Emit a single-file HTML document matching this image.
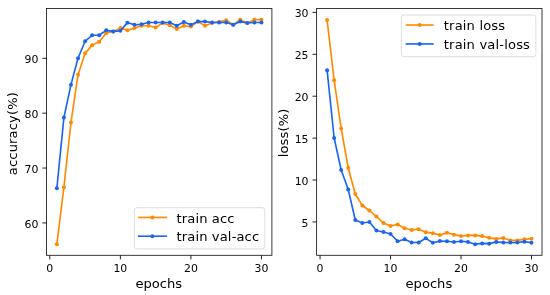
<!DOCTYPE html>
<html><head><meta charset="utf-8"><title>training curves</title>
<style>
html,body{margin:0;padding:0;background:#fff;}
svg{display:block;}
text{font-family:"DejaVu Sans","Liberation Sans",sans-serif;fill:#000;}
.t{font-size:10.91px;}
.l{font-size:13.1px;letter-spacing:0.12px;}
</style></head><body>
<svg width="550" height="295" viewBox="0 0 550 295">
<rect width="550" height="295" fill="#fff"/>
<polyline points="56.85,244.31 63.91,187.24 70.97,122.5 78.02,74.76 85.07,53.36 92.13,45.13 99.19,41.84 106.24,33.06 113.29,31.41 120.35,28.12 127.4,30.32 134.46,28.12 141.51,25.76 148.57,25.76 155.62,27.57 162.68,23.02 169.74,25.21 176.79,29.05 183.84,25.76 190.9,26.59 197.95,21.59 205.01,25.76 212.06,23.02 219.12,21.92 226.18,20.28 233.23,24.66 240.28,19.73 247.34,23.02 254.39,19.73 261.45,19.73" fill="none" stroke="#ff8a00" stroke-width="1.64" stroke-linejoin="round" stroke-linecap="square"/>
<g fill="#ff8a00"><circle cx="56.85" cy="244.31" r="2"/><circle cx="63.91" cy="187.24" r="2"/><circle cx="70.97" cy="122.5" r="2"/><circle cx="78.02" cy="74.76" r="2"/><circle cx="85.07" cy="53.36" r="2"/><circle cx="92.13" cy="45.13" r="2"/><circle cx="99.19" cy="41.84" r="2"/><circle cx="106.24" cy="33.06" r="2"/><circle cx="113.29" cy="31.41" r="2"/><circle cx="120.35" cy="28.12" r="2"/><circle cx="127.4" cy="30.32" r="2"/><circle cx="134.46" cy="28.12" r="2"/><circle cx="141.51" cy="25.76" r="2"/><circle cx="148.57" cy="25.76" r="2"/><circle cx="155.62" cy="27.57" r="2"/><circle cx="162.68" cy="23.02" r="2"/><circle cx="169.74" cy="25.21" r="2"/><circle cx="176.79" cy="29.05" r="2"/><circle cx="183.84" cy="25.76" r="2"/><circle cx="190.9" cy="26.59" r="2"/><circle cx="197.95" cy="21.59" r="2"/><circle cx="205.01" cy="25.76" r="2"/><circle cx="212.06" cy="23.02" r="2"/><circle cx="219.12" cy="21.92" r="2"/><circle cx="226.18" cy="20.28" r="2"/><circle cx="233.23" cy="24.66" r="2"/><circle cx="240.28" cy="19.73" r="2"/><circle cx="247.34" cy="23.02" r="2"/><circle cx="254.39" cy="19.73" r="2"/><circle cx="261.45" cy="19.73" r="2"/></g>
<polyline points="56.85,188.34 63.91,117.56 70.97,84.64 78.02,58.3 85.07,41.29 92.13,35.25 99.19,35.25 106.24,30.32 113.29,31.41 120.35,30.86 127.4,22.63 134.46,24.83 141.51,24.28 148.57,22.47 155.62,22.47 162.68,22.47 169.74,22.47 176.79,25.76 183.84,21.92 190.9,24.66 197.95,21.59 205.01,21.59 212.06,22.47 219.12,22.47 226.18,22.47 233.23,24.66 240.28,21.59 247.34,23.02 254.39,22.47 261.45,22.47" fill="none" stroke="#1b65ee" stroke-width="1.64" stroke-linejoin="round" stroke-linecap="square"/>
<g fill="#1b65ee"><circle cx="56.85" cy="188.34" r="2"/><circle cx="63.91" cy="117.56" r="2"/><circle cx="70.97" cy="84.64" r="2"/><circle cx="78.02" cy="58.3" r="2"/><circle cx="85.07" cy="41.29" r="2"/><circle cx="92.13" cy="35.25" r="2"/><circle cx="99.19" cy="35.25" r="2"/><circle cx="106.24" cy="30.32" r="2"/><circle cx="113.29" cy="31.41" r="2"/><circle cx="120.35" cy="30.86" r="2"/><circle cx="127.4" cy="22.63" r="2"/><circle cx="134.46" cy="24.83" r="2"/><circle cx="141.51" cy="24.28" r="2"/><circle cx="148.57" cy="22.47" r="2"/><circle cx="155.62" cy="22.47" r="2"/><circle cx="162.68" cy="22.47" r="2"/><circle cx="169.74" cy="22.47" r="2"/><circle cx="176.79" cy="25.76" r="2"/><circle cx="183.84" cy="21.92" r="2"/><circle cx="190.9" cy="24.66" r="2"/><circle cx="197.95" cy="21.59" r="2"/><circle cx="205.01" cy="21.59" r="2"/><circle cx="212.06" cy="22.47" r="2"/><circle cx="219.12" cy="22.47" r="2"/><circle cx="226.18" cy="22.47" r="2"/><circle cx="233.23" cy="24.66" r="2"/><circle cx="240.28" cy="21.59" r="2"/><circle cx="247.34" cy="23.02" r="2"/><circle cx="254.39" cy="22.47" r="2"/><circle cx="261.45" cy="22.47" r="2"/></g>
<rect x="46.5" y="8.5" width="225.4" height="246.8" fill="none" stroke="#1c1c1c" stroke-width="0.87"/>
<line x1="49.8" y1="255.3" x2="49.8" y2="259.4" stroke="#000" stroke-width="0.87"/>
<text x="49.8" y="272.3" text-anchor="middle" class="t">0</text>
<line x1="120.35" y1="255.3" x2="120.35" y2="259.4" stroke="#000" stroke-width="0.87"/>
<text x="120.35" y="272.3" text-anchor="middle" class="t">10</text>
<line x1="190.9" y1="255.3" x2="190.9" y2="259.4" stroke="#000" stroke-width="0.87"/>
<text x="190.9" y="272.3" text-anchor="middle" class="t">20</text>
<line x1="261.45" y1="255.3" x2="261.45" y2="259.4" stroke="#000" stroke-width="0.87"/>
<text x="261.45" y="272.3" text-anchor="middle" class="t">30</text>
<line x1="42.4" y1="222.91" x2="46.5" y2="222.91" stroke="#000" stroke-width="0.87"/>
<text x="38.46" y="227.71" text-anchor="end" class="t">60</text>
<line x1="42.4" y1="168.04" x2="46.5" y2="168.04" stroke="#000" stroke-width="0.87"/>
<text x="38.46" y="172.84" text-anchor="end" class="t">70</text>
<line x1="42.4" y1="113.17" x2="46.5" y2="113.17" stroke="#000" stroke-width="0.87"/>
<text x="38.46" y="117.97" text-anchor="end" class="t">80</text>
<line x1="42.4" y1="58.3" x2="46.5" y2="58.3" stroke="#000" stroke-width="0.87"/>
<text x="38.46" y="63.1" text-anchor="end" class="t">90</text>
<text x="158.8" y="287.6" text-anchor="middle" class="l" style="letter-spacing:0">epochs</text>
<text transform="translate(16.7 133.6) rotate(-90)" text-anchor="middle" class="l">accuracy(%)</text>
<rect x="134.4" y="207.7" width="130.4" height="41.2" rx="2.6" fill="#fff" fill-opacity="0.8" stroke="#d4d4d4" stroke-opacity="0.8" stroke-width="1"/>
<line x1="138.7" y1="217.45" x2="166.1" y2="217.45" stroke="#ff8a00" stroke-width="1.64" stroke-linecap="square"/>
<circle cx="152.4" cy="217.45" r="2" fill="#ff8a00"/>
<text x="176.5" y="222.5" class="l" style="letter-spacing:0.12px">train acc</text>
<line x1="138.7" y1="236.2" x2="166.1" y2="236.2" stroke="#1b65ee" stroke-width="1.64" stroke-linecap="square"/>
<circle cx="152.4" cy="236.2" r="2" fill="#1b65ee"/>
<text x="176.5" y="241.2" class="l" style="letter-spacing:0.12px">train val-acc</text>
<polyline points="327.1,20.07 334.15,80.32 341.19,128.45 348.24,167.97 355.29,193.96 362.34,205.49 369.39,210.5 376.43,216.52 383.48,223.04 390.53,225.96 397.58,224.54 404.63,228.22 411.67,229.97 418.72,229.14 425.77,232.15 432.82,233.15 439.87,234.99 446.91,232.73 453.96,234.66 461.01,235.99 468.06,235.4 475.11,235.4 482.15,236.07 489.2,237.83 496.25,238.91 503.3,237.92 510.35,240.42 517.39,240.42 524.44,239.25 531.49,238.66" fill="none" stroke="#ff8a00" stroke-width="1.64" stroke-linejoin="round" stroke-linecap="square"/>
<g fill="#ff8a00"><circle cx="327.1" cy="20.07" r="2"/><circle cx="334.15" cy="80.32" r="2"/><circle cx="341.19" cy="128.45" r="2"/><circle cx="348.24" cy="167.97" r="2"/><circle cx="355.29" cy="193.96" r="2"/><circle cx="362.34" cy="205.49" r="2"/><circle cx="369.39" cy="210.5" r="2"/><circle cx="376.43" cy="216.52" r="2"/><circle cx="383.48" cy="223.04" r="2"/><circle cx="390.53" cy="225.96" r="2"/><circle cx="397.58" cy="224.54" r="2"/><circle cx="404.63" cy="228.22" r="2"/><circle cx="411.67" cy="229.97" r="2"/><circle cx="418.72" cy="229.14" r="2"/><circle cx="425.77" cy="232.15" r="2"/><circle cx="432.82" cy="233.15" r="2"/><circle cx="439.87" cy="234.99" r="2"/><circle cx="446.91" cy="232.73" r="2"/><circle cx="453.96" cy="234.66" r="2"/><circle cx="461.01" cy="235.99" r="2"/><circle cx="468.06" cy="235.4" r="2"/><circle cx="475.11" cy="235.4" r="2"/><circle cx="482.15" cy="236.07" r="2"/><circle cx="489.2" cy="237.83" r="2"/><circle cx="496.25" cy="238.91" r="2"/><circle cx="503.3" cy="237.92" r="2"/><circle cx="510.35" cy="240.42" r="2"/><circle cx="517.39" cy="240.42" r="2"/><circle cx="524.44" cy="239.25" r="2"/><circle cx="531.49" cy="238.66" r="2"/></g>
<polyline points="327.1,70.2 334.15,137.97 341.19,169.98 348.24,189.53 355.29,220.03 362.34,223.04 369.39,222.03 376.43,230.47 383.48,232.07 390.53,233.99 397.58,241.17 404.63,239.25 411.67,242.51 418.72,242.51 425.77,238.33 432.82,242.76 439.87,241.08 446.91,241.25 453.96,242.01 461.01,241.25 468.06,241.92 475.11,244.18 482.15,243.43 489.2,243.67 496.25,241.92 503.3,242.51 510.35,242.59 517.39,242.51 524.44,241.67 531.49,242.68" fill="none" stroke="#1b65ee" stroke-width="1.64" stroke-linejoin="round" stroke-linecap="square"/>
<g fill="#1b65ee"><circle cx="327.1" cy="70.2" r="2"/><circle cx="334.15" cy="137.97" r="2"/><circle cx="341.19" cy="169.98" r="2"/><circle cx="348.24" cy="189.53" r="2"/><circle cx="355.29" cy="220.03" r="2"/><circle cx="362.34" cy="223.04" r="2"/><circle cx="369.39" cy="222.03" r="2"/><circle cx="376.43" cy="230.47" r="2"/><circle cx="383.48" cy="232.07" r="2"/><circle cx="390.53" cy="233.99" r="2"/><circle cx="397.58" cy="241.17" r="2"/><circle cx="404.63" cy="239.25" r="2"/><circle cx="411.67" cy="242.51" r="2"/><circle cx="418.72" cy="242.51" r="2"/><circle cx="425.77" cy="238.33" r="2"/><circle cx="432.82" cy="242.76" r="2"/><circle cx="439.87" cy="241.08" r="2"/><circle cx="446.91" cy="241.25" r="2"/><circle cx="453.96" cy="242.01" r="2"/><circle cx="461.01" cy="241.25" r="2"/><circle cx="468.06" cy="241.92" r="2"/><circle cx="475.11" cy="244.18" r="2"/><circle cx="482.15" cy="243.43" r="2"/><circle cx="489.2" cy="243.67" r="2"/><circle cx="496.25" cy="241.92" r="2"/><circle cx="503.3" cy="242.51" r="2"/><circle cx="510.35" cy="242.59" r="2"/><circle cx="517.39" cy="242.51" r="2"/><circle cx="524.44" cy="241.67" r="2"/><circle cx="531.49" cy="242.68" r="2"/></g>
<rect x="316.6" y="8.5" width="225.4" height="246.8" fill="none" stroke="#1c1c1c" stroke-width="0.87"/>
<line x1="320.05" y1="255.3" x2="320.05" y2="259.4" stroke="#000" stroke-width="0.87"/>
<text x="320.05" y="272.3" text-anchor="middle" class="t">0</text>
<line x1="390.53" y1="255.3" x2="390.53" y2="259.4" stroke="#000" stroke-width="0.87"/>
<text x="390.53" y="272.3" text-anchor="middle" class="t">10</text>
<line x1="461.01" y1="255.3" x2="461.01" y2="259.4" stroke="#000" stroke-width="0.87"/>
<text x="461.01" y="272.3" text-anchor="middle" class="t">20</text>
<line x1="531.49" y1="255.3" x2="531.49" y2="259.4" stroke="#000" stroke-width="0.87"/>
<text x="531.49" y="272.3" text-anchor="middle" class="t">30</text>
<line x1="312.5" y1="221.93" x2="316.6" y2="221.93" stroke="#000" stroke-width="0.87"/>
<text x="308.56" y="226.73" text-anchor="end" class="t">5</text>
<line x1="312.5" y1="180.02" x2="316.6" y2="180.02" stroke="#000" stroke-width="0.87"/>
<text x="308.56" y="184.82" text-anchor="end" class="t">10</text>
<line x1="312.5" y1="138.12" x2="316.6" y2="138.12" stroke="#000" stroke-width="0.87"/>
<text x="308.56" y="142.92" text-anchor="end" class="t">15</text>
<line x1="312.5" y1="96.21" x2="316.6" y2="96.21" stroke="#000" stroke-width="0.87"/>
<text x="308.56" y="101.01" text-anchor="end" class="t">20</text>
<line x1="312.5" y1="54.3" x2="316.6" y2="54.3" stroke="#000" stroke-width="0.87"/>
<text x="308.56" y="59.1" text-anchor="end" class="t">25</text>
<line x1="312.5" y1="12.4" x2="316.6" y2="12.4" stroke="#000" stroke-width="0.87"/>
<text x="308.56" y="17.2" text-anchor="end" class="t">30</text>
<text x="428.9" y="287.6" text-anchor="middle" class="l" style="letter-spacing:0">epochs</text>
<text transform="translate(288.4 132.9) rotate(-90)" text-anchor="middle" class="l">loss(%)</text>
<rect x="401.4" y="15" width="134.5" height="41.7" rx="2.6" fill="#fff" fill-opacity="0.8" stroke="#d4d4d4" stroke-opacity="0.8" stroke-width="1"/>
<line x1="406.5" y1="25.05" x2="432.9" y2="25.05" stroke="#ff8a00" stroke-width="1.64" stroke-linecap="square"/>
<circle cx="419.7" cy="25.05" r="2" fill="#ff8a00"/>
<text x="443.8" y="30.1" class="l" style="letter-spacing:0.16px">train loss</text>
<line x1="406.5" y1="43.95" x2="432.9" y2="43.95" stroke="#1b65ee" stroke-width="1.64" stroke-linecap="square"/>
<circle cx="419.7" cy="43.95" r="2" fill="#1b65ee"/>
<text x="443.8" y="49" class="l" style="letter-spacing:0.16px">train val-loss</text>
</svg>
</body></html>
